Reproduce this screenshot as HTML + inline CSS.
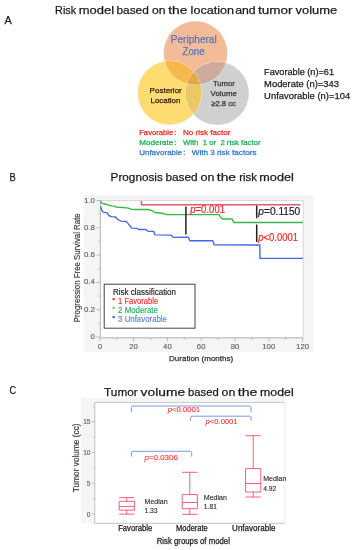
<!DOCTYPE html>
<html lang="en"><head><meta charset="utf-8"><title>Risk model figure</title>
<style>
html,body{margin:0;padding:0;background:#fff;}
body{width:358px;height:550px;overflow:hidden;}
svg{display:block;font-family:"Liberation Sans",sans-serif;}
text{paint-order:stroke;stroke-linejoin:round;}
</style></head><body>
<svg width="358" height="550" viewBox="0 0 358 550">
<rect width="358" height="550" fill="#ffffff"/>

<defs>
<clipPath id="cO"><circle cx="195.5" cy="53.0" r="32.0" fill="#000"/></clipPath>
<clipPath id="cY"><circle cx="169.6" cy="92.8" r="32.1" fill="#000"/></clipPath>
<clipPath id="cOY" clip-path="url(#cO)"><circle cx="169.6" cy="92.8" r="32.1" fill="#000"/></clipPath>
</defs>
<circle cx="195.5" cy="53.0" r="32.0" fill="#F4BB98"/>
<circle cx="169.6" cy="92.8" r="32.1" fill="#FFDC72"/>
<circle cx="217.2" cy="93.3" r="31.8" fill="#D0D0D0"/>
<circle cx="169.6" cy="92.8" r="32.1" fill="#F5B94B" clip-path="url(#cO)"/>
<circle cx="217.2" cy="93.3" r="31.8" fill="#CDAA9B" clip-path="url(#cO)"/>
<circle cx="217.2" cy="93.3" r="31.8" fill="#EBC864" clip-path="url(#cY)"/>
<g clip-path="url(#cO)"><circle cx="217.2" cy="93.3" r="31.8" fill="#E1AA46" clip-path='url(#cY)'/></g>
<circle cx="195.5" cy="53.0" r="32.0" fill="none" stroke="#ffffff" stroke-opacity="0.45" stroke-width="0.7"/>
<circle cx="169.6" cy="92.8" r="32.1" fill="none" stroke="#ffffff" stroke-opacity="0.45" stroke-width="0.7"/>
<circle cx="217.2" cy="93.3" r="31.8" fill="none" stroke="#ffffff" stroke-opacity="0.45" stroke-width="0.7"/>
<text x="4.5" y="23.7" font-size="10.9" fill="#1a1a1a" stroke="#1a1a1a" stroke-width="0.25">A</text>
<text y="13.9" font-size="11.7" fill="#1a1a1a" stroke="#1a1a1a" stroke-width="0.25"><tspan x="55.1" textLength="21.1" lengthAdjust="spacingAndGlyphs">Risk</tspan> <tspan x="78.8" textLength="35.4" lengthAdjust="spacingAndGlyphs">model</tspan> <tspan x="116.5" textLength="32.3" lengthAdjust="spacingAndGlyphs">based</tspan> <tspan x="152.0" textLength="13.6" lengthAdjust="spacingAndGlyphs">on</tspan> <tspan x="168.2" textLength="19.2" lengthAdjust="spacingAndGlyphs">the</tspan> <tspan x="190.6" textLength="43.5" lengthAdjust="spacingAndGlyphs">location</tspan> <tspan x="235.2" textLength="20.5" lengthAdjust="spacingAndGlyphs">and</tspan> <tspan x="258.0" textLength="34.5" lengthAdjust="spacingAndGlyphs">tumor</tspan> <tspan x="295.6" textLength="41.7" lengthAdjust="spacingAndGlyphs">volume</tspan></text>
<text x="170.8" y="43.0" font-size="10.1" fill="#5876BE" stroke="#5876BE" stroke-width="0.25" textLength="45.9" lengthAdjust="spacingAndGlyphs">Peripheral</text>
<text x="182.5" y="54.5" font-size="10.1" fill="#5876BE" stroke="#5876BE" stroke-width="0.25" textLength="22.1" lengthAdjust="spacingAndGlyphs">Zone</text>
<text x="149.6" y="93.1" font-size="7.4" fill="#2a2210" stroke="#2a2210" stroke-width="0.25" textLength="32.2" lengthAdjust="spacingAndGlyphs">Posterior</text>
<text x="150.5" y="102.9" font-size="7.4" fill="#2a2210" stroke="#2a2210" stroke-width="0.25" textLength="29.9" lengthAdjust="spacingAndGlyphs">Location</text>
<text x="212.9" y="86.0" font-size="7.4" fill="#333" stroke="#333" stroke-width="0.25" textLength="22.0" lengthAdjust="spacingAndGlyphs">Tumor</text>
<text x="210.6" y="95.9" font-size="7.4" fill="#333" stroke="#333" stroke-width="0.25" textLength="26.2" lengthAdjust="spacingAndGlyphs">Volume</text>
<text x="211.2" y="105.7" font-size="7.4" fill="#333" stroke="#333" stroke-width="0.25" textLength="24.7" lengthAdjust="spacingAndGlyphs">≥2.8 cc</text>
<text x="264.1" y="75.1" font-size="9.8" fill="#1a1a1a" stroke="#1a1a1a" stroke-width="0.25" textLength="69.9" lengthAdjust="spacingAndGlyphs">Favorable (n)=61</text>
<text x="264.1" y="87.1" font-size="9.8" fill="#1a1a1a" stroke="#1a1a1a" stroke-width="0.25" textLength="74.9" lengthAdjust="spacingAndGlyphs">Moderate (n)=343</text>
<text x="264.1" y="99.1" font-size="9.8" fill="#1a1a1a" stroke="#1a1a1a" stroke-width="0.25" textLength="86.1" lengthAdjust="spacingAndGlyphs">Unfavorable (n)=104</text>
<text x="139.2" y="135.1" font-size="7.1" fill="#F52A2A" stroke="#F52A2A" stroke-width="0.25" textLength="34.1" lengthAdjust="spacingAndGlyphs">Favorable</text>
<text x="173.6" y="135.1" font-size="7.1" fill="#F52A2A" stroke="#F52A2A" stroke-width="0.25" font-family="&quot;Liberation Sans&quot;, &quot;Noto Sans CJK SC&quot;, sans-serif">：</text>
<text x="182.9" y="135.1" font-size="7.1" fill="#F52A2A" stroke="#F52A2A" stroke-width="0.25" textLength="47.6" lengthAdjust="spacingAndGlyphs">No risk factor</text>
<text x="139.2" y="145.2" font-size="7.1" fill="#1FAF5A" stroke="#1FAF5A" stroke-width="0.25" textLength="34.1" lengthAdjust="spacingAndGlyphs">Moderate</text>
<text x="173.6" y="145.2" font-size="7.1" fill="#1FAF5A" stroke="#1FAF5A" stroke-width="0.25" font-family="&quot;Liberation Sans&quot;, &quot;Noto Sans CJK SC&quot;, sans-serif">：</text>
<text x="182.9" y="145.2" font-size="7.1" fill="#1FAF5A" stroke="#1FAF5A" stroke-width="0.25" textLength="77.6" lengthAdjust="spacingAndGlyphs" xml:space="preserve">With  1 or  2 risk factor</text>
<text x="139.2" y="155.3" font-size="7.1" fill="#2F78C8" stroke="#2F78C8" stroke-width="0.25" textLength="43.1" lengthAdjust="spacingAndGlyphs">Unfavorable</text>
<text x="182.6" y="155.3" font-size="7.1" fill="#2F78C8" stroke="#2F78C8" stroke-width="0.25" font-family="&quot;Liberation Sans&quot;, &quot;Noto Sans CJK SC&quot;, sans-serif">：</text>
<text x="191.7" y="155.3" font-size="7.1" fill="#2F78C8" stroke="#2F78C8" stroke-width="0.25" textLength="64.8" lengthAdjust="spacingAndGlyphs">With 3 risk factors</text>
<text x="9.4" y="180.6" font-size="10.5" fill="#1a1a1a" stroke="#1a1a1a" stroke-width="0.25" textLength="6.2" lengthAdjust="spacingAndGlyphs">B</text>
<text y="181.0" font-size="11.7" fill="#1a1a1a" stroke="#1a1a1a" stroke-width="0.25"><tspan x="110.6" textLength="52.2" lengthAdjust="spacingAndGlyphs">Prognosis</tspan> <tspan x="165.4" textLength="32.3" lengthAdjust="spacingAndGlyphs">based</tspan> <tspan x="200.6" textLength="13.9" lengthAdjust="spacingAndGlyphs">on</tspan> <tspan x="216.8" textLength="19.2" lengthAdjust="spacingAndGlyphs">the</tspan> <tspan x="239.2" textLength="17.8" lengthAdjust="spacingAndGlyphs">risk</tspan> <tspan x="259.3" textLength="34.5" lengthAdjust="spacingAndGlyphs">model</tspan></text>
<rect x="83.5" y="195" width="229.7" height="157.2" fill="#f5f5f5"/>
<rect x="100.4" y="200.5" width="202.8" height="137.3" fill="#ffffff" stroke="#d4d4d4" stroke-width="0.9"/>
<path d="M100.4 200.5V337.8H303" fill="none" stroke="#b8b8b8" stroke-width="0.9"/>
<path d="M96.4 337.0H100.4M98.2 323.4H100.4M96.4 309.7H100.4M98.2 296.1H100.4M96.4 282.4H100.4M98.2 268.8H100.4M96.4 255.1H100.4M98.2 241.4H100.4M96.4 227.8H100.4M98.2 214.1H100.4M96.4 200.5H100.4M99.8 337.8V341.3M116.7 337.8V339.8M133.6 337.8V341.3M150.5 337.8V339.8M167.4 337.8V341.3M184.3 337.8V339.8M201.2 337.8V341.3M218.1 337.8V339.8M235.0 337.8V341.3M251.9 337.8V339.8M268.8 337.8V341.3M285.7 337.8V339.8M302.6 337.8V341.3" stroke="#b0b0b0" stroke-width="0.8" fill="none"/>
<text x="95.0" y="202.5" font-size="7.9" fill="#585860" stroke="#585860" stroke-width="0.1" text-anchor="end">1.0</text>
<text x="95.0" y="229.8" font-size="7.9" fill="#585860" stroke="#585860" stroke-width="0.1" text-anchor="end">0.8</text>
<text x="95.0" y="257.1" font-size="7.9" fill="#585860" stroke="#585860" stroke-width="0.1" text-anchor="end">0.6</text>
<text x="95.0" y="284.4" font-size="7.9" fill="#585860" stroke="#585860" stroke-width="0.1" text-anchor="end">0.4</text>
<text x="95.0" y="311.7" font-size="7.9" fill="#585860" stroke="#585860" stroke-width="0.1" text-anchor="end">0.2</text>
<text x="95.0" y="339.0" font-size="7.9" fill="#585860" stroke="#585860" stroke-width="0.1" text-anchor="end">0</text>
<text x="99.8" y="349.3" font-size="7.8" fill="#585860" stroke="#585860" stroke-width="0.1" text-anchor="middle">0</text>
<text x="133.6" y="349.3" font-size="7.8" fill="#585860" stroke="#585860" stroke-width="0.1" text-anchor="middle">20</text>
<text x="167.4" y="349.3" font-size="7.8" fill="#585860" stroke="#585860" stroke-width="0.1" text-anchor="middle">40</text>
<text x="201.2" y="349.3" font-size="7.8" fill="#585860" stroke="#585860" stroke-width="0.1" text-anchor="middle">60</text>
<text x="235.0" y="349.3" font-size="7.8" fill="#585860" stroke="#585860" stroke-width="0.1" text-anchor="middle">80</text>
<text x="268.8" y="349.3" font-size="7.8" fill="#585860" stroke="#585860" stroke-width="0.1" text-anchor="middle">100</text>
<text x="302.6" y="349.3" font-size="7.8" fill="#585860" stroke="#585860" stroke-width="0.1" text-anchor="middle">120</text>
<text transform="translate(80.2,267.8) rotate(-90)" text-anchor="middle" font-size="8.7" stroke="#333" stroke-width="0.15" fill="#333" textLength="109" lengthAdjust="spacingAndGlyphs">Progression Free Survival Rate</text>
<text x="169.0" y="360.7" font-size="7.9" fill="#333" stroke="#333" stroke-width="0.25" textLength="64.2" lengthAdjust="spacingAndGlyphs">Duration (months)</text>
<polyline points="141.4,200.9 141.4,204.8 300.5,204.8" fill="none" stroke="#E05A6E" stroke-width="1.5" stroke-linejoin="round"/>
<polyline points="100.5,201.0 102.1,203.3 104.9,204.0 108.3,204.9 111.6,205.8 114.4,206.1 116.1,207.2 122.8,207.5 128.4,208.1 131.8,209.4 136,209.5 148,209.5 152.2,210.7 155,212.5 163.3,213.5 166.8,214.6 219.1,214.6 220.5,217 222.6,219 232.3,219 233.7,222.5 302.8,222.5" fill="none" stroke="#3CB54A" stroke-width="1.35" stroke-linejoin="round"/>
<polyline points="100.7,206.3 101.6,210 103.3,212.2 107.2,212.8 108.8,215.6 111.6,216.7 115.6,217 117.8,219.5 121.1,221.1 126.2,221.5 128.4,223.9 131.8,228.2 136.8,228.4 138.9,229.5 145.9,229.5 148,231.3 153.6,231.3 155,234.8 171,235.1 173.1,237.3 188.4,237.2 189.8,240.7 212.8,240.7 214.2,244.9 259.9,245 259.9,258.4 303,258.4" fill="none" stroke="#4169E1" stroke-width="1.35" stroke-linejoin="round"/>
<path d="M185.9 206.5V234.4M256.7 205.6V218.3M256.7 224.6V242" stroke="#222" stroke-width="1.5" fill="none"/>
<text x="190.2" y="212.8" font-size="10.2" fill="#F52A2A" stroke="#F52A2A" stroke-width="0.2" textLength="34.9" lengthAdjust="spacingAndGlyphs"><tspan font-style="italic">p</tspan>=0.001</text>
<text x="258.3" y="214.8" font-size="10.4" fill="#222" stroke="#222" stroke-width="0.2" textLength="42.0" lengthAdjust="spacingAndGlyphs"><tspan font-style="italic">p</tspan>=0.1150</text>
<text x="258.3" y="241.2" font-size="10.2" fill="#F52A2A" stroke="#F52A2A" stroke-width="0.2" textLength="39.8" lengthAdjust="spacingAndGlyphs"><tspan font-style="italic">p</tspan>&lt;0.0001</text>
<rect x="104.2" y="284.2" width="90.8" height="44" fill="#ffffff" stroke="#444" stroke-width="1"/>
<text x="113.1" y="294.7" font-size="8.4" fill="#1a1a1a" stroke="#1a1a1a" stroke-width="0.15" textLength="62.9" lengthAdjust="spacingAndGlyphs">Risk classification</text>
<text x="118.1" y="303.8" font-size="8.4" fill="#F52A2A" stroke="#F52A2A" stroke-width="0.15" textLength="40.0" lengthAdjust="spacingAndGlyphs">1 Favorable</text>
<text x="118.1" y="312.8" font-size="8.4" fill="#1FAF5A" stroke="#1FAF5A" stroke-width="0.15" textLength="39.7" lengthAdjust="spacingAndGlyphs">2 Moderate</text>
<text x="118.1" y="321.9" font-size="8.4" fill="#5B84CF" stroke="#5B84CF" stroke-width="0.15" textLength="48.9" lengthAdjust="spacingAndGlyphs">3 Unfavorable</text>
<rect x="112.6" y="298.1" width="2.1" height="2.1" fill="#E8202A"/>
<rect x="112.6" y="306.8" width="2.1" height="2.1" fill="#6CC04A"/>
<rect x="112.6" y="316.0" width="2.1" height="2.1" fill="#2F5FC8"/>
<text x="9.6" y="394.1" font-size="10.5" fill="#1a1a1a" stroke="#1a1a1a" stroke-width="0.25" textLength="6.6" lengthAdjust="spacingAndGlyphs">C</text>
<text y="395.9" font-size="11.7" fill="#1a1a1a" stroke="#1a1a1a" stroke-width="0.25"><tspan x="104.1" textLength="33.6" lengthAdjust="spacingAndGlyphs">Tumor</tspan> <tspan x="140.6" textLength="44.5" lengthAdjust="spacingAndGlyphs">volume</tspan> <tspan x="188.0" textLength="30.7" lengthAdjust="spacingAndGlyphs">based</tspan> <tspan x="221.6" textLength="13.8" lengthAdjust="spacingAndGlyphs">on</tspan> <tspan x="237.8" textLength="19.7" lengthAdjust="spacingAndGlyphs">the</tspan> <tspan x="260.1" textLength="33.6" lengthAdjust="spacingAndGlyphs">model</tspan></text>
<rect x="80.9" y="397.7" width="203.9" height="125.8" fill="#f5f5f5"/>
<rect x="94.9" y="402.6" width="189.9" height="120.9" fill="#ffffff"/>
<path d="M94.9 402.6H284.8" fill="none" stroke="#c8c8c8" stroke-width="1"/>
<path d="M284.8 402.6V523.5" fill="none" stroke="#ececec" stroke-width="1"/>
<path d="M94.8 402.6V523.3H284.8" fill="none" stroke="#bcbcbc" stroke-width="0.9"/>
<path d="M91.7 513.9H94.9M91.7 483.2H94.9M91.7 452.4H94.9M91.7 421.7H94.9M93.1 498.5H94.9M93.1 467.8H94.9M93.1 437.1H94.9M93.1 406.3H94.9" stroke="#b0b0b0" stroke-width="0.8" fill="none"/>
<text x="90.5" y="516.5" font-size="6.6" fill="#585860" stroke="#585860" stroke-width="0.1" text-anchor="end">0</text>
<text x="90.5" y="485.8" font-size="6.6" fill="#585860" stroke="#585860" stroke-width="0.1" text-anchor="end">5</text>
<text x="90.5" y="455.0" font-size="6.6" fill="#585860" stroke="#585860" stroke-width="0.1" text-anchor="end">10</text>
<text x="90.5" y="424.3" font-size="6.6" fill="#585860" stroke="#585860" stroke-width="0.1" text-anchor="end">15</text>
<text transform="translate(79.0,457.8) rotate(-90)" text-anchor="middle" font-size="8.3" stroke="#333" stroke-width="0.15" fill="#333" textLength="68.7" lengthAdjust="spacingAndGlyphs">Tumor volume (cc)</text>
<path d="M119.2 497.6H134.4M126.8 497.6V501.3M119.2 501.3H134.4V510.1H119.2ZM119.2 506.6H134.4M126.8 510.1V514.1M119.2 514.1H134.4" fill="none" stroke="#F0607A" stroke-width="1"/>
<path d="M182.20000000000002 472.3H197.4M189.8 472.3V494.6M182.20000000000002 494.6H197.4V508.7H182.20000000000002ZM182.20000000000002 502.5H197.4M189.8 508.7V514.3M182.20000000000002 514.3H197.4" fill="none" stroke="#F0607A" stroke-width="1"/>
<path d="M245.6 435.7H260.8M253.2 435.7V468.6M245.6 468.6H260.8V492.0H245.6ZM245.6 483.5H260.8M253.2 492.0V497.0M245.6 497.0H260.8" fill="none" stroke="#F0607A" stroke-width="1"/>
<text x="144.5" y="503.6" font-size="6.6" fill="#2c2c2c" stroke="#2c2c2c" stroke-width="0.12" textLength="23.2" lengthAdjust="spacingAndGlyphs">Median</text>
<text x="144.5" y="512.6" font-size="6.6" fill="#2c2c2c" stroke="#2c2c2c" stroke-width="0.12" textLength="13.1" lengthAdjust="spacingAndGlyphs">1.33</text>
<text x="203.8" y="500.1" font-size="6.6" fill="#2c2c2c" stroke="#2c2c2c" stroke-width="0.12" textLength="23.2" lengthAdjust="spacingAndGlyphs">Median</text>
<text x="203.8" y="509.3" font-size="6.6" fill="#2c2c2c" stroke="#2c2c2c" stroke-width="0.12" textLength="13.1" lengthAdjust="spacingAndGlyphs">1.81</text>
<text x="263.2" y="481.3" font-size="6.6" fill="#2c2c2c" stroke="#2c2c2c" stroke-width="0.12" textLength="23.2" lengthAdjust="spacingAndGlyphs">Median</text>
<text x="263.2" y="490.8" font-size="6.6" fill="#2c2c2c" stroke="#2c2c2c" stroke-width="0.12" textLength="13.1" lengthAdjust="spacingAndGlyphs">4.92</text>
<path d="M131.4 412.4V407.5Q131.4 406.0 132.9 406.0H249.5Q251.0 406.0 251.0 407.5V412.4" fill="none" stroke="#7A9CDA" stroke-width="1"/>
<path d="M190.6 420.8V417.7Q190.6 416.2 192.1 416.2H249.5Q251.0 416.2 251.0 417.7V420.8" fill="none" stroke="#7A9CDA" stroke-width="1"/>
<path d="M131.4 456.6V452.8Q131.4 451.3 132.9 451.3H190.2Q191.7 451.3 191.7 452.8V456.6" fill="none" stroke="#7A9CDA" stroke-width="1"/>
<text x="167.7" y="412.4" font-size="8.0" fill="#F52A2A" stroke="#F52A2A" stroke-width="0.08" textLength="32.4" lengthAdjust="spacingAndGlyphs"><tspan font-style="italic">p</tspan>&lt;0.0001</text>
<text x="205.6" y="424.1" font-size="8.0" fill="#F52A2A" stroke="#F52A2A" stroke-width="0.08" textLength="32.0" lengthAdjust="spacingAndGlyphs"><tspan font-style="italic">p</tspan>&lt;0.0001</text>
<text x="144.4" y="459.7" font-size="8.0" fill="#F52A2A" stroke="#F52A2A" stroke-width="0.08" textLength="33.5" lengthAdjust="spacingAndGlyphs"><tspan font-style="italic">p</tspan>=0.0306</text>
<text x="118.2" y="530.9" font-size="8.2" fill="#1a1a1a" stroke="#1a1a1a" stroke-width="0.25" textLength="34.0" lengthAdjust="spacingAndGlyphs">Favorable</text>
<text x="176.0" y="530.9" font-size="8.2" fill="#1a1a1a" stroke="#1a1a1a" stroke-width="0.25" textLength="31.8" lengthAdjust="spacingAndGlyphs">Moderate</text>
<text x="232.1" y="530.9" font-size="8.2" fill="#1a1a1a" stroke="#1a1a1a" stroke-width="0.25" textLength="43.3" lengthAdjust="spacingAndGlyphs">Unfavorable</text>
<text x="156.7" y="543.8" font-size="8.2" fill="#1a1a1a" stroke="#1a1a1a" stroke-width="0.25" textLength="73.2" lengthAdjust="spacingAndGlyphs">Risk groups of model</text>
</svg></body></html>
